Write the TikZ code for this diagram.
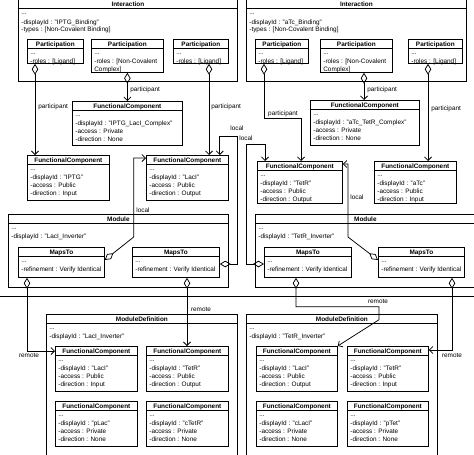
\documentclass[tikz,border=0pt]{standalone}
\usepackage{fontspec}
\setmainfont{Liberation Sans}
\usepackage{tikz}
\usetikzlibrary{positioning}
\usetikzlibrary{arrows.meta}

% class box: name, x, y, width, height, title, attributes
\newcommand{\umlclass}[7]{
  \node[classbox,minimum width=#4pt,minimum height=#5pt] (#1) at (#2,#3) {};
  \node[classtitle] (#1title) at ([yshift=-7pt]#1.north) {#6};
  \draw ([yshift=-9pt]#1.north west) -- ([yshift=-9pt]#1.north east);
  \node[classattr,below right=10pt and 3pt of #1.north west] (#1attr) {\rule{0pt}{5pt}...\\[1.5pt]#7};
}

\begin{document}
\begin{tikzpicture}[
	x=1pt,y=-1pt,
	line width=0.75pt,
	font=\fontsize{6.4}{7.8}\selectfont
]
\tikzset{
    classbox/.style = {rectangle, draw=black, anchor=north west, inner sep=0pt},
    classtitle/.style = {anchor=base, inner sep=0pt, font=\fontsize{6.4}{7.8}\selectfont\bfseries},
    classattr/.style = {align=left, inner sep=0pt},
    assoc/.style = {arrows={Diamond[open,length=11pt,width=6.5pt]-Straight Barb[length=3.5pt,width=7pt]}},
    role/.style = {inner sep=0pt}
}
\useasboundingbox (0,0) rectangle (474,455);
\clip (0,0) rectangle (474,455);

% interactions
\umlclass{intL}{18}{-0.5}{219}{81.5}{Interaction}{-displayId : "IPTG\_Binding"\\-types : [Non-Covalent Binding]}
\umlclass{pL1}{27}{39}{56}{24}{Participation}{-roles : [Ligand]}
\umlclass{pL2}{91}{39}{72}{33}{Participation}{-roles : [Non-Covalent\\Complex]}
\umlclass{pL3}{173}{39}{55}{24}{Participation}{-roles : [Ligand]}
\umlclass{intR}{246}{-0.5}{220}{81.5}{Interaction}{-displayId : "aTc\_Binding"\\-types : [Non-Covalent Binding]}
\umlclass{pR1}{255}{39}{53}{24}{Participation}{-roles : [Ligand]}
\umlclass{pR2}{320}{39}{72}{33}{Participation}{-roles : [Non-Covalent\\Complex]}
\umlclass{pR3}{408}{39}{54}{24}{Participation}{-roles : [Ligand]}

% functional components
\umlclass{fcCplxL}{72}{101}{110}{44}{FunctionalComponent}{-displayId : "IPTG\_LacI\_Complex"\\-access : Private\\-direction : None}
\umlclass{fcIPTG}{27}{155}{82}{45}{FunctionalComponent}{-displayId : "IPTG"\\-access : Public\\-direction : Input}
\umlclass{fcLacI}{146}{155}{82}{45}{FunctionalComponent}{-displayId : "LacI"\\-access : Public\\-direction : Output}
\umlclass{fcCplxR}{310}{100}{109}{45}{FunctionalComponent}{-displayId : "aTc\_TetR\_Complex"\\-access : Private\\-direction : None}
\umlclass{fcTetR}{257}{161}{85}{42}{FunctionalComponent}{-displayId : "TetR"\\-access : Public\\-direction : Output}
\umlclass{fcaTc}{374}{161}{82}{42}{FunctionalComponent}{-displayId : "aTc"\\-access : Public\\-direction : Input}

% modules
\umlclass{modL}{8}{214}{220}{73}{Module}{-displayId : "LacI\_Inverter"}
\umlclass{mapL1}{18}{247}{86}{30}{MapsTo}{-refinement : Verify Identical}
\umlclass{mapL2}{132}{247}{87}{30}{MapsTo}{-refinement : Verify Identical}
\umlclass{modR}{255}{214}{220}{73}{Module}{-displayId : "TetR\_Inverter"}
\umlclass{mapR1}{264}{247}{87}{30}{MapsTo}{-refinement : Verify Identical}
\umlclass{mapR2}{378}{247}{86}{30}{MapsTo}{-refinement : Verify Identical}

\draw (0,296) -- (474,296);

% module definitions
\umlclass{mdL}{46}{314}{191}{150}{ModuleDefinition}{-displayId : "LacI\_Inverter"}
\umlclass{mdLlacI}{55}{346}{82}{45}{FunctionalComponent}{-displayId : "LacI"\\-access : Public\\-direction : Input}
\umlclass{mdLtetR}{146}{346}{82}{45}{FunctionalComponent}{-displayId : "TetR"\\-access : Public\\-direction : Output}
\umlclass{mdLpLac}{55}{401}{82}{45}{FunctionalComponent}{-displayId : "pLac"\\-access : Private\\-direction : None}
\umlclass{mdLcTetR}{146}{401}{82}{45}{FunctionalComponent}{-displayId : "cTetR"\\-access : Private\\-direction : None}
\umlclass{mdR}{246}{314}{191}{150}{ModuleDefinition}{-displayId : "TetR\_Inverter"}
\umlclass{mdRlacI}{256}{346}{81}{45}{FunctionalComponent}{-displayId : "LacI"\\-access : Public\\-direction : Output}
\umlclass{mdRtetR}{347}{346}{81}{45}{FunctionalComponent}{-displayId : "TetR"\\-access : Public\\-direction : Input}
\umlclass{mdRcLacI}{256}{401}{81}{45}{FunctionalComponent}{-displayId : "cLacI"\\-access : Private\\-direction : None}
\umlclass{mdRpTet}{347}{401}{81}{45}{FunctionalComponent}{-displayId : "pTet"\\-access : Private\\-direction : None}

% participants
\draw[assoc] ([xshift=8pt]pL1.south west) -- ([xshift=8pt]fcIPTG.north west);
\draw[assoc] (pL2.south) -- (fcCplxL.north);
\draw[assoc] ([xshift=36pt]pL3.south west) -- ([xshift=63pt]fcLacI.north west);
\draw[assoc] ([xshift=9pt]pR1.south west) -- ++(0,55) -| ([xshift=44pt]fcTetR.north west);
\draw[assoc] ([xshift=44pt]pR2.south west) -- ([xshift=54pt]fcCplxR.north west);
\draw[assoc] ([xshift=20pt]pR3.south west) -- ([xshift=54pt]fcaTc.north west);
\node[role,anchor=west] (roleL1) at (38,107) {participant};
\node[role,anchor=west] (roleL2) at (130,90) {participant};
\node[role,anchor=west] (roleL3) at (211,107) {participant};
\node[role] (roleR1) at (283,114) {participant};
\node[role,anchor=west] (roleR2) at (367,90) {participant};
\node[role,anchor=west] (roleR3) at (431,109) {participant};

% local
\draw[assoc] ([yshift=-13pt]mapL1.north east) -- ++(29,-23) |- ([yshift=-3pt]fcLacI.north west);
\draw[assoc] ([yshift=-17pt]mapL2.north east) -- ++(18,0) -- ++(0,-128) -| ([xshift=-9pt]fcLacI.north east);
\draw[assoc] ([yshift=-17pt]mapR1.north west) -- ++(-18,0) -- ++(0,-120) -| ([xshift=8pt]fcTetR.north west);
\draw[assoc] ([yshift=-13pt]mapR2.north west) -- ++(-30,-23) |- ([yshift=-3pt]fcTetR.north east);
\node[role] (localL1) at (143,210) {local};
\node[role] (localL2) at (237,128) {local};
\node[role] (localR1) at (246,138) {local};
\node[role] (localR2) at (357,197) {local};

% remote
\draw[assoc] ([xshift=9pt]mapL1.south west) |- ([yshift=-5pt]mdLlacI.north west);
\draw[assoc] ([xshift=55pt]mapL2.south west) -- ([xshift=41pt]mdLtetR.north west);
\draw[assoc] ([xshift=32pt]mapR1.south west) -- ++(0,29) -- ++(83,0) -- ++(0,13) -- (mdRlacI.north east);
\draw[assoc] ([xshift=74pt]mapR2.south west) |- ([yshift=-4pt]mdRtetR.north east);
\node[role] (remoteL1) at (29,355) {remote};
\node[role] (remoteL2) at (201,309) {remote};
\node[role] (remoteR1) at (378,301) {remote};
\node[role] (remoteR2) at (452,355) {remote};
\end{tikzpicture}
\end{document}
